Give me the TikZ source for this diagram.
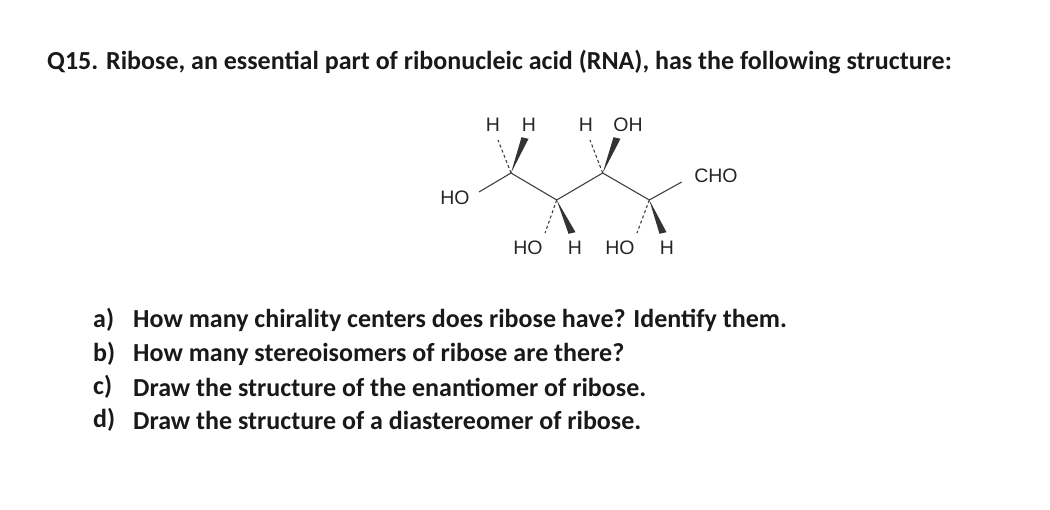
\documentclass[tikz,border=0pt]{standalone}
\usepackage{fontspec}
\usetikzlibrary{calc}
\setmainfont{Carlito}
\newfontfamily\arialf{Liberation Sans}
\begin{document}
\begin{tikzpicture}[x=1pt,y=-1pt,
  bond/.style={line width=1.1pt,color=black!75},
  hash/.style={line width=1.1pt,color=black!75,dash pattern=on 3pt off 2.5pt},
  lab/.style={font=\arialf\fontsize{19.5}{19.5}\selectfont,text=black!85,inner sep=0pt},
  txt/.style={font=\bfseries\fontsize{26}{28}\selectfont,text=black!90,anchor=west,inner sep=0pt}]
\useasboundingbox (0,0) rectangle (1050,510);
\node[txt] (q) at (47,62) {Q15. Ribose, an essential part of ribonucleic acid (RNA), has the following structure:};
\coordinate (c1) at (511,173);
\coordinate (c2) at (556.7,200);
\coordinate (c3) at (602.7,173);
\coordinate (c4) at (649.3,200);
\coordinate (ho) at (479,192);
\coordinate (cho) at (681.7,182);
\draw[bond] (ho) -- (c1) -- (c2) -- (c3) -- (c4) -- (cho);
\node[lab] (lho) at (455,198) {HO};
\node[lab] (lcho) at (716,176) {CHO};
% top
\node[lab] (h1) at (493,125) {H};
\node[lab] (h2) at (529,125) {H};
\node[lab] (h3) at (586,125) {H};
\node[lab] (oh) at (628,125) {OH};
\coordinate (d1) at (498,140); \coordinate (w1) at (525,138);
\coordinate (d3) at (590,140); \coordinate (w3) at (617,138);
\draw[hash] (c1) -- (d1);
\draw[hash] (c3) -- (d3);
\fill[black!80] (c1) -- ($(w1)+(-3.5,-0.8)$) -- ($(w1)+(3.5,0.8)$) -- cycle;
\fill[black!80] (c3) -- ($(w3)+(-3.5,-0.8)$) -- ($(w3)+(3.5,0.8)$) -- cycle;
% bottom
\node[lab] (ho2) at (528,248) {HO};
\node[lab] (hb2) at (575,248) {H};
\node[lab] (ho4) at (620,248) {HO};
\node[lab] (hb4) at (667,248) {H};
\coordinate (d2) at (545,233); \coordinate (w2) at (572,233);
\coordinate (d4) at (637,233); \coordinate (w4) at (663,233);
\draw[hash] (c2) -- (d2);
\draw[hash] (c4) -- (d4);
\fill[black!80] (c2) -- ($(w2)+(-3.5,0.8)$) -- ($(w2)+(3.5,-0.8)$) -- cycle;
\fill[black!80] (c4) -- ($(w4)+(-3.5,0.8)$) -- ($(w4)+(3.5,-0.8)$) -- cycle;
% questions
\node[txt] (a) at (93,320) {a)};
\node[txt] (at) at (133,320) {How many chirality centers does ribose have? Identify them.};
\node[txt] (b) at (93,354) {b)};
\node[txt] (bt) at (133,354) {How many stereoisomers of ribose are there?};
\node[txt] (c) at (93,387) {c)};
\node[txt] (ct) at (133,387) {Draw the structure of the enantiomer of ribose.};
\node[txt] (d) at (93,420) {d)};
\node[txt] (dt) at (133,420) {Draw the structure of a diastereomer of ribose.};
\end{tikzpicture}
\end{document}
